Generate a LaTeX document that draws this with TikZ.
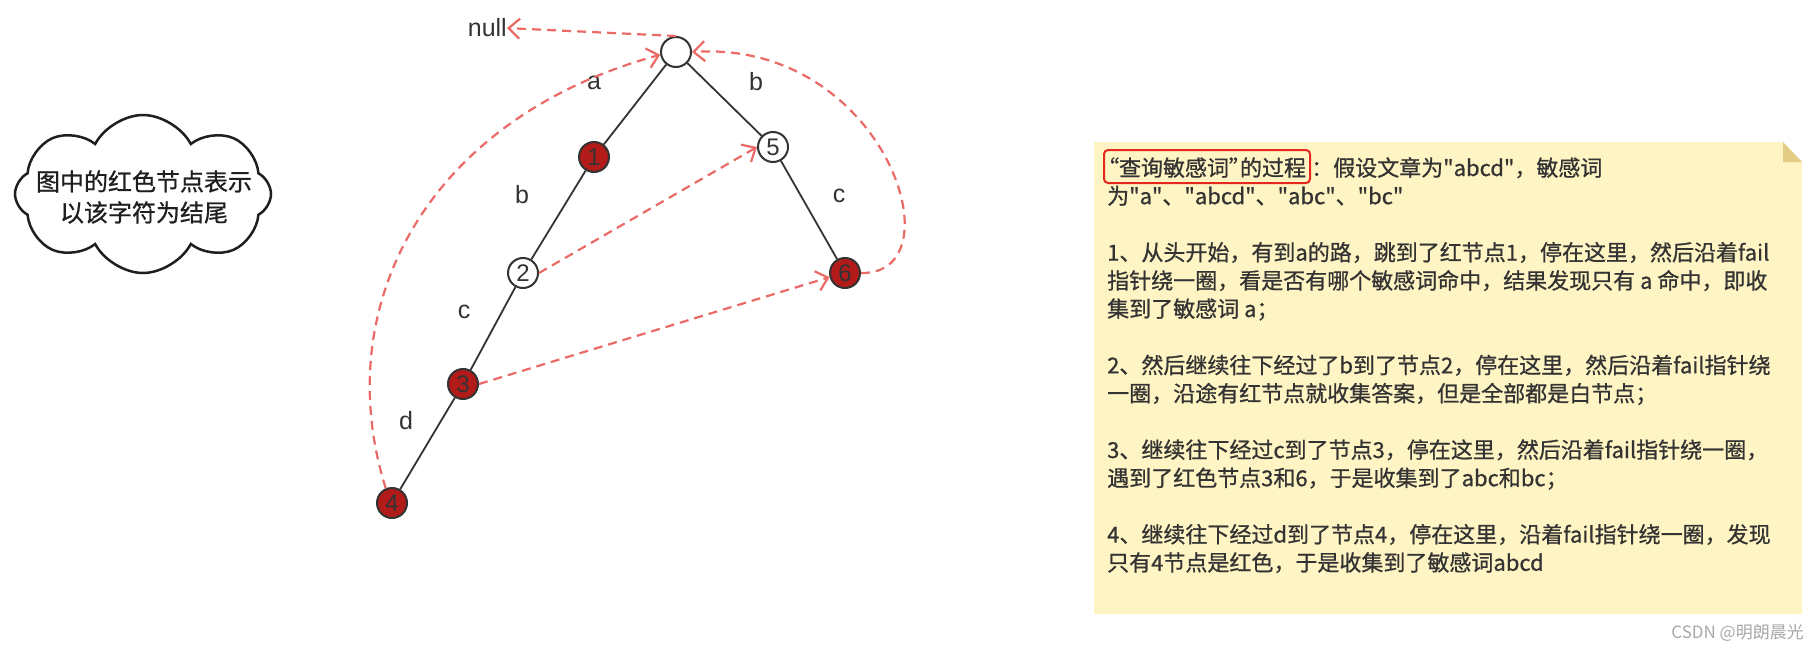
\documentclass[tikz,border=0pt]{standalone}
\usepackage{fontspec}
\setmainfont{Liberation Sans}
\newfontfamily\cjkf{Noto Sans CJK SC}
\newfontfamily\cjkb{Noto Sans CJK SC}[FakeBold=0.8]
\usetikzlibrary{arrows.meta,shapes.symbols}
\definecolor{nodered}{HTML}{B31B1B}
\definecolor{failred}{HTML}{EA6B66}
\definecolor{ink}{HTML}{333333}
\definecolor{cloudink}{HTML}{1F1F1F}
\definecolor{notefill}{HTML}{FFF4C3}
\definecolor{notefold}{HTML}{E3CD85}
\definecolor{hlred}{HTML}{E5281E}
\definecolor{wmgray}{HTML}{A8A8A8}
\newcommand{\pq}[1]{{\addfontfeature{RawFeature=+palt}#1}}
\begin{document}
\begin{tikzpicture}[x=1pt,y=-1pt,
  trienode/.style={circle, draw=ink, line width=2pt, minimum size=30pt, inner sep=0pt, text=ink, font=\fontsize{24}{24}\selectfont},
  endnode/.style={trienode, fill=nodered},
  plainnode/.style={trienode, fill=white},
  trieedge/.style={draw=ink, line width=1.8pt},
  edgelabel/.style={text=ink, inner sep=0pt, font=\fontsize{25}{25}\selectfont},
  fail/.style={draw=failred, line width=2.2pt, dash pattern=on 9pt off 6pt, -{Straight Barb[length=11pt,width=20pt]}},
  notetext/.style={anchor=base west, inner sep=0pt, text=ink, font={\cjkb\fontsize{22}{28}\selectfont}},
  cloudbox/.style={cloud, cloud puffs=8, cloud puff arc=125, cloud ignores aspect, minimum width=256pt, minimum height=158pt, inner sep=0pt, draw=cloudink, line width=2.5pt, fill=white},
  cloudtext/.style={align=center, inner sep=0pt, text=cloudink, font={\cjkb\fontsize{24}{31}\selectfont}}
]
\useasboundingbox[fill=white] (0,0) rectangle (1819,650);

% note paper
\fill[notefill] (1094,142) -- (1783,142) -- (1802,162) -- (1802,614) -- (1094,614) -- cycle;
\fill[notefold] (1783,142) -- (1783,162) -- (1802,162) -- cycle;

% cloud
\node[cloudbox] (cloud) at (143,194) {};
\node[cloudtext] (cloudlabel) at (144,197) {图中的红色节点表示\\以该字符为结尾};

% trie nodes
\node[plainnode] (root) at (676,52) {};
\node[endnode] (n1) at (594,157) {1};
\node[plainnode] (n5) at (773,147) {5};
\node[plainnode] (n2) at (523,273) {2};
\node[endnode] (n6) at (845,273) {6};
\node[endnode] (n3) at (463,384) {3};
\node[endnode] (n4) at (392,503) {4};

% trie edges
\draw[trieedge] (root) -- (n1);
\draw[trieedge] (root) -- (n5);
\draw[trieedge] (n1) -- (n2);
\draw[trieedge] (n2) -- (n3);
\draw[trieedge] (n3) -- (n4);
\draw[trieedge] (n5) -- (n6);

% edge labels
\node[edgelabel] (la) at (594,83) {a};
\node[edgelabel] (lb1) at (756,82) {b};
\node[edgelabel] (lb2) at (522,195) {b};
\node[edgelabel] (lc1) at (839,196) {c};
\node[edgelabel] (lc2) at (464,312) {c};
\node[edgelabel] (ld) at (406,421) {d};
\node[edgelabel, anchor=base east] (null) at (507,37) {null};

% fail pointers
\draw[fail] (root.north) -- (null.east);
\draw[fail] (n4.113) .. controls (328,305) and (428,118) .. (root.190);
\draw[fail] (n2.east) -- (n5.west);
\draw[fail] (n3.east) -- (n6.195);
\draw[fail] (n6.east) .. controls (960,275) and (885,40) .. (root.east);

% note text
\node[anchor=base west, draw=hlred, line width=2pt, rounded corners=4pt, inner xsep=4pt, inner ysep=3pt, text height=23pt, text depth=4pt, text=ink, font={\cjkb\fontsize{22}{28}\selectfont}] (hl) at (1103,176) {\pq{“}查询敏感词\pq{”}的过程};
\node[notetext] (t1) at (hl.base east) {：假设文章为"abcd"，敏感词};
\node[notetext] (t2) at (1107,204.2) {为"a"、"abcd"、"abc"、"bc"};
\node[notetext] (t4) at (1107,260.6) {1、从头开始，有到a的路，跳到了红节点1，停在这里，然后沿着fail};
\node[notetext] (t5) at (1107,288.8) {指针绕一圈，看是否有哪个敏感词命中，结果发现只有 a 命中，即收};
\node[notetext] (t6) at (1107,317) {集到了敏感词 a；};
\node[notetext] (t8) at (1107,373.4) {2、然后继续往下经过了b到了节点2，停在这里，然后沿着fail指针绕};
\node[notetext] (t9) at (1107,401.6) {一圈，沿途有红节点就收集答案，但是全部都是白节点；};
\node[notetext] (t11) at (1107,458) {3、继续往下经过c到了节点3，停在这里，然后沿着fail指针绕一圈，};
\node[notetext] (t12) at (1107,486.2) {遇到了红色节点3和6，于是收集到了abc和bc；};
\node[notetext] (t14) at (1107,542.6) {4、继续往下经过d到了节点4，停在这里，沿着fail指针绕一圈，发现};
\node[notetext] (t15) at (1107,570.8) {只有4节点是红色，于是收集到了敏感词abcd};

% watermark
\node[anchor=base east, inner sep=0pt, text=wmgray, font={\cjkf\fontsize{17}{17}\selectfont}] (wm) at (1804,638) {CSDN @明朗晨光};
\end{tikzpicture}
\end{document}
